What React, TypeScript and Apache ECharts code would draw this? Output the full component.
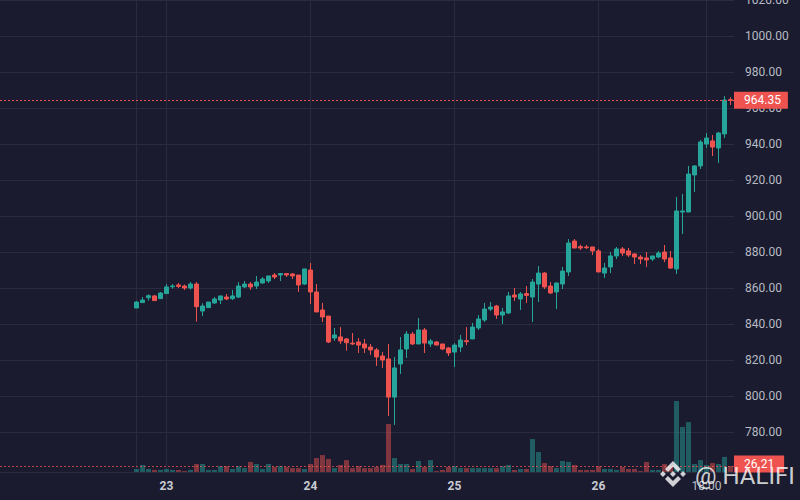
import React, { useEffect, useRef } from "react";
import * as echarts from "echarts";

// Hourly candles, 22nd 19:00 -> 26th 22:00 (index 0..99)
const opens = [
  848.9, 851.9, 854.6, 855.6, 854.1, 856.9, 860.7, 861.7, 861.1, 860.0,
  862.2, 847.2, 849.1, 851.7, 853.3, 855.0, 854.1, 855.0, 860.6, 862.2,
  861.1, 862.8, 863.9, 867.2, 867.2, 868.0, 867.8, 867.2, 862.2, 870.0,
  857.8, 847.8, 844.4, 832.2, 832.8, 831.7, 829.4, 830.0, 828.9, 827.2,
  825.6, 822.2, 820.6, 799.4, 817.8, 826.1, 834.4, 828.9, 836.7, 828.9,
  830.0, 828.9, 826.7, 824.4, 827.2, 830.7, 831.7, 837.8, 842.2, 848.3,
  850.0, 845.0, 846.1, 856.1, 853.9, 856.9, 855.0, 862.2, 868.3, 861.1,
  857.8, 862.2, 868.9, 886.1, 883.0, 882.8, 882.8, 880.6, 868.3, 871.7,
  877.8, 881.7, 880.6, 878.9, 877.2, 876.7, 876.1, 877.2, 880.0, 876.7,
  870.6, 902.2, 902.2, 922.8, 927.8, 940.0, 941.7, 937.8, 945.6, 964.6,
];
const closes = [
  852.2, 853.3, 855.7, 853.0, 857.2, 860.6, 861.1, 860.9, 860.0, 862.2,
  849.6, 850.0, 852.2, 853.9, 855.6, 853.9, 855.6, 861.1, 862.2, 860.6,
  863.3, 865.0, 866.7, 866.1, 868.0, 867.2, 866.7, 861.7, 870.6, 857.8,
  846.7, 843.9, 830.0, 833.9, 830.6, 829.6, 828.9, 828.3, 826.7, 825.6,
  821.7, 820.0, 799.4, 815.6, 825.6, 834.4, 828.9, 836.7, 829.4, 830.6,
  828.3, 826.1, 823.9, 828.3, 831.1, 830.2, 838.3, 842.8, 848.3, 849.4,
  845.0, 846.7, 855.6, 855.0, 856.7, 855.9, 863.3, 868.3, 860.6, 857.2,
  862.8, 869.4, 885.0, 882.2, 882.2, 882.4, 880.6, 868.9, 871.1, 877.8,
  881.7, 879.4, 878.3, 877.2, 876.1, 875.6, 877.8, 879.4, 876.1, 871.1,
  902.8, 902.8, 923.3, 927.8, 941.1, 943.3, 938.3, 946.1, 964.4, 964.35,
];
const lows = [
  848.9, 851.9, 853.0, 853.0, 854.1, 856.9, 859.6, 860.0, 858.9, 859.1,
  841.3, 844.4, 849.1, 851.1, 851.1, 853.3, 853.3, 854.4, 860.0, 858.9,
  859.4, 862.2, 862.8, 865.0, 863.9, 866.1, 865.0, 857.8, 861.7, 851.1,
  846.7, 841.1, 829.4, 830.6, 828.9, 825.2, 828.3, 823.9, 823.9, 822.8,
  816.7, 815.6, 788.9, 783.9, 812.2, 821.1, 828.3, 828.9, 823.9, 827.2,
  828.3, 825.6, 822.2, 816.1, 824.4, 828.3, 831.7, 836.7, 841.1, 847.2,
  842.8, 840.0, 845.6, 852.8, 847.8, 851.7, 841.1, 852.2, 859.4, 856.7,
  848.3, 859.4, 866.7, 882.2, 881.1, 881.7, 878.3, 868.9, 865.6, 868.3,
  876.1, 877.8, 877.2, 873.3, 873.3, 871.7, 875.0, 876.7, 874.4, 870.6,
  867.8, 890.0, 902.2, 913.3, 926.1, 937.8, 933.3, 929.5, 943.3, 961.7,
];
const highs = [
  852.8, 855.0, 856.5, 856.1, 857.8, 862.2, 862.2, 862.8, 861.9, 863.3,
  863.3, 851.5, 852.2, 855.0, 855.6, 856.7, 858.9, 863.3, 863.9, 863.3,
  866.7, 866.1, 866.7, 868.3, 868.3, 868.3, 868.3, 867.2, 870.6, 873.9,
  862.2, 851.7, 844.4, 837.8, 838.3, 832.2, 835.0, 832.2, 831.7, 828.9,
  826.7, 824.4, 828.9, 821.7, 832.8, 836.1, 835.6, 843.3, 837.8, 831.7,
  830.6, 828.9, 827.2, 829.4, 833.9, 838.3, 840.6, 845.0, 851.7, 852.2,
  850.6, 848.9, 857.8, 860.0, 857.8, 861.1, 865.0, 872.2, 868.9, 863.3,
  863.0, 871.7, 887.2, 887.2, 884.1, 883.9, 882.8, 881.7, 873.9, 880.0,
  882.8, 882.8, 882.2, 879.4, 878.3, 880.0, 877.8, 880.6, 883.9, 880.6,
  910.6, 912.2, 927.8, 928.3, 942.2, 946.1, 945.0, 946.7, 966.7, 966.0,
];
const volumes = [
  13, 31, 13, 9, 9, 13, 9, 9, 4, 9,
  35, 35, 9, 9, 26, 26, 13, 26, 17, 44,
  35, 13, 35, 22, 26, 22, 17, 17, 13, 35,
  61, 74, 57, 17, 31, 52, 17, 26, 17, 17,
  22, 31, 210, 61, 35, 35, 13, 48, 22, 52,
  4, 9, 22, 26, 17, 17, 17, 17, 17, 17,
  17, 26, 31, 9, 13, 13, 144, 87, 39, 26,
  17, 48, 44, 31, 9, 9, 9, 26, 13, 13,
  9, 22, 13, 13, 4, 44, 9, 9, 35, 26,
  310, 197, 218, 35, 52, 31, 39, 35, 66, 26.21,
];

const priceTicks = [780, 800, 820, 840, 860, 880, 900, 920, 940, 960, 980, 1000, 1020];
const timeTickIndex = [5, 29, 53, 77, 95];
const timeTickLabels = ["23", "24", "25", "26", "18:00"];

const BG = "#1a1b2e";
const GRID = "#2a2b3f";
const UP = "#26a69a";
const DOWN = "#ef5350";
const VOL_UP = "rgba(38,166,154,0.48)";
const VOL_DOWN = "rgba(239,83,80,0.48)";
const TEXT = "#b8bbc4";
const FONT = "Roboto, 'Noto Sans', sans-serif";

const BINANCE =
  "M38.73 53.2L63.3 28.64L87.88 53.22L102.18 38.93L63.3 0L24.43 38.9Z M0 63.31L14.3 49L28.6 63.3L14.3 77.61Z M38.73 73.41L63.3 98L87.88 73.42L102.18 87.71L63.3 126.61L24.43 87.74Z M98 63.31L112.3 49.01L126.6 63.31L112.3 77.61Z M77.79 63.3L63.3 48.8L48.81 63.28L63.3 77.79Z";

let registered = false;

export default function App() {
  const ref = useRef<HTMLDivElement>(null);

  useEffect(() => {
    if (!ref.current) return;
    if (!registered) {
      echarts.graphic.registerShape("binanceLogo", echarts.graphic.extendPath(BINANCE, {}) as any);
      registered = true;
    }
    const chart = echarts.init(ref.current, undefined, { renderer: "svg" });

    const candleData = opens.map((o, i) => [i, o, closes[i], lows[i], highs[i]]);
    const volData = volumes.map((v, i) => ({
      value: [i, v],
      itemStyle: { color: closes[i] >= opens[i] ? VOL_UP : VOL_DOWN },
    }));
    const lastClose = closes[closes.length - 1];
    const lastVol = volumes[volumes.length - 1];

    const option: any = {
      animation: false,
      backgroundColor: BG,
      textStyle: { fontFamily: FONT },
      grid: {
        left: 0,
        right: 66,
        top: 0,
        bottom: 28,
        containLabel: false,
        outerBoundsMode: "none",
      },
      xAxis: {
        type: "value",
        min: -22.75,
        max: -22.75 + 734 / 6,
        axisLine: { show: true, lineStyle: { color: GRID } },
        axisTick: { show: false, customValues: timeTickIndex },
        axisLabel: {
          customValues: timeTickIndex,
          margin: 8,
          fontSize: 12,
          color: TEXT,
          formatter: (v: number) => {
            const k = timeTickIndex.indexOf(Math.round(v));
            if (k < 0) return "";
            const t = timeTickLabels[k];
            return t.includes(":") ? `{n|${t}}` : `{b|${t}}`;
          },
          rich: {
            b: { fontWeight: "bold", fontSize: 12, color: "#c8cbd3", fontFamily: FONT },
            n: { fontSize: 12, color: TEXT, fontFamily: FONT },
          },
        },
        splitLine: { show: true, lineStyle: { color: GRID, width: 1 } },
      },
      yAxis: [
        {
          type: "value",
          position: "right",
          min: 757.78,
          max: 1020,
          axisLine: { show: true, lineStyle: { color: GRID } },
          axisTick: { show: false, customValues: priceTicks },
          axisLabel: {
            customValues: priceTicks,
            margin: 11,
            fontSize: 12,
            color: TEXT,
            formatter: (v: number) => v.toFixed(2),
          },
          splitLine: { show: true, lineStyle: { color: GRID, width: 1 } },
        },
        {
          type: "value",
          min: 0,
          max: 2062,
          show: false,
          splitLine: { show: false },
        },
      ],
      series: [
        {
          type: "bar",
          name: "Volume",
          xAxisIndex: 0,
          yAxisIndex: 1,
          barWidth: 5,
          clip: false,
          z: 1,
          data: volData,
          markLine: {
            silent: true,
            symbol: ["none", "none"],
            lineStyle: { color: "rgba(239,83,80,0.75)", type: [2, 2], width: 1 },
            label: {
              show: true,
              position: "end",
              distance: 0,
              formatter: () => lastVol.toFixed(2),
              backgroundColor: DOWN,
              color: "#ffffff",
              fontSize: 12,
              fontFamily: FONT,
              padding: [3, 10, 2, 10],
              offset: [0, -2],
            },
            data: [{ yAxis: lastVol }],
          },
        },
        {
          type: "candlestick",
          name: "Price",
          xAxisIndex: 0,
          yAxisIndex: 0,
          barWidth: 5,
          clip: false,
          z: 3,
          data: candleData,
          itemStyle: {
            color: UP,
            color0: DOWN,
            borderColor: UP,
            borderColor0: DOWN,
            borderWidth: 1,
          },
          markLine: {
            silent: true,
            symbol: ["none", "none"],
            lineStyle: { color: DOWN, type: [2, 2], width: 1 },
            label: {
              show: true,
              position: "end",
              distance: 0,
              formatter: () => lastClose.toFixed(2),
              backgroundColor: DOWN,
              color: "#ffffff",
              fontSize: 12,
              fontFamily: FONT,
              padding: [3, 7, 2, 10],
            },
            data: [{ yAxis: lastClose }],
          },
        },
      ],
      graphic: [
        {
          type: "binanceLogo",
          x: 660,
          y: 461,
          scaleX: 26 / 126.6,
          scaleY: 26 / 126.6,
          z: 100,
          silent: true,
          style: { fill: "rgba(255,255,255,0.8)" },
        },
        {
          type: "text",
          x: 695,
          y: 476,
          z: 100,
          silent: true,
          style: {
            text: "@ HALIFI",
            fill: "rgba(255,255,255,0.8)",
            font: `24px ${FONT}`,
            textVerticalAlign: "middle",
            verticalAlign: "middle",
          },
        },
      ],
    };

    chart.setOption(option);
    return () => chart.dispose();
  }, []);

  return (
    <div
      ref={ref}
      style={{ position: "absolute", left: 0, top: 0, width: 800, height: 500 }}
    />
  );
}
